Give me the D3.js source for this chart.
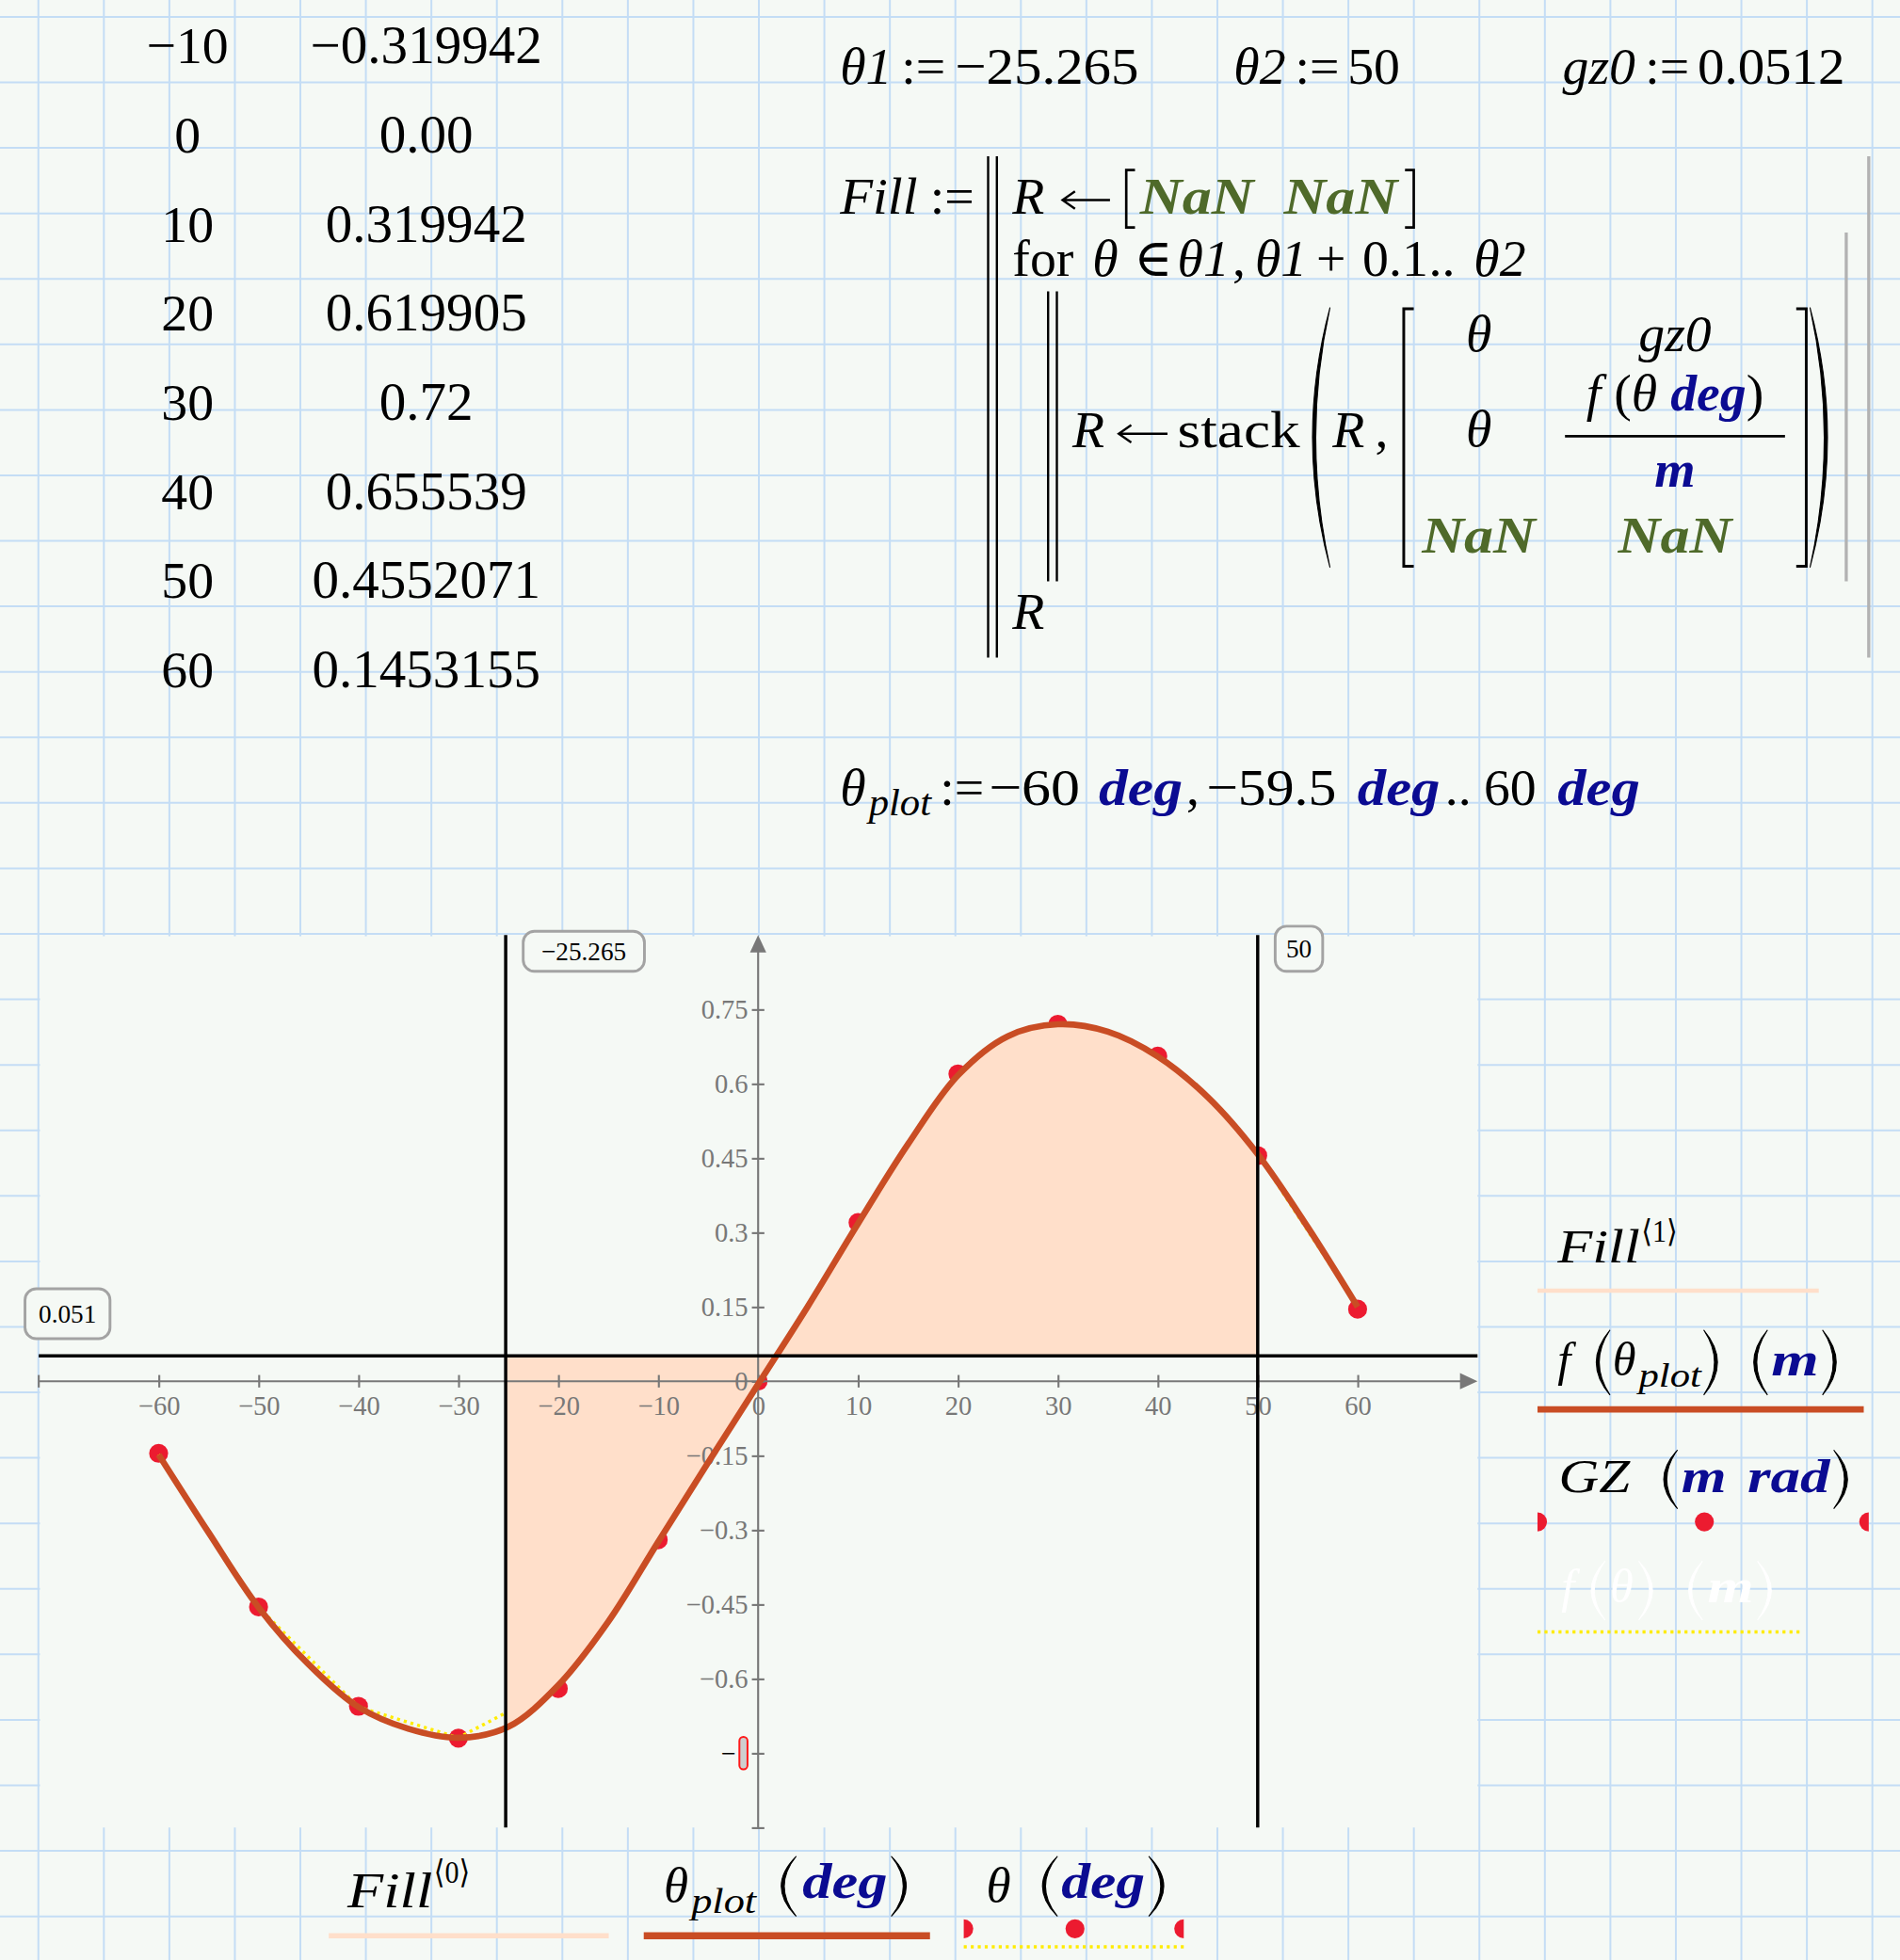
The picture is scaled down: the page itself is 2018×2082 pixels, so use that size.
<!DOCTYPE html>
<html>
<head>
<meta charset="utf-8">
<script src="https://cdn.jsdelivr.net/npm/d3@7"></script>
<style>
  html, body { margin: 0; padding: 0; background: #f5f9f5; }
  svg { display: block; }
</style>
</head>
<body>
<svg id="sheet" width="2018" height="2082" viewBox="0 0 1520 1568" preserveAspectRatio="none"></svg>
<script>
const tableTheta = [-10, 0, 10, 20, 30, 40, 50, 60];
const tableGZ = ["−0.319942", "0.00", "0.319942", "0.619905", "0.72", "0.655539", "0.4552071", "0.1453155"];

const gzTheta = [-60, -50, -40, -30, -20, -10, 0, 10, 20, 30, 40, 50, 60];
const gzValues = [-0.1453155, -0.4552071, -0.655539, -0.72, -0.619905, -0.319942, 0,
                  0.319942, 0.619905, 0.72, 0.655539, 0.4552071, 0.1453155];

// fitted curve f(theta), read every 5 deg
const fitTheta = [-60, -55, -50, -45, -40, -35, -30, -25, -20, -15, -10, -5, 0,
                  5, 10, 15, 20, 25, 30, 35, 40, 45, 50, 55, 60];
const fitValues = [-0.148, -0.305, -0.456, -0.571, -0.657, -0.701, -0.719, -0.697, -0.613, -0.485, -0.324, -0.164, -0.006,
                   0.152, 0.318, 0.478, 0.617, 0.696, 0.720, 0.705, 0.655, 0.573, 0.458, 0.311, 0.150];

const theta1 = -25.265;
const theta2 = 50;
const gz0 = 0.0512;

const xTicks = [-60, -50, -40, -30, -20, -10, 0, 10, 20, 30, 40, 50, 60];
const yTicks = [0.75, 0.6, 0.45, 0.3, 0.15, 0, -0.15, -0.3, -0.45, -0.6, -0.75, -0.9];
const yTickLabels = ["0.75", "0.6", "0.45", "0.3", "0.15", "0", "−0.15", "−0.3", "−0.45", "−0.6", "", ""];

const FONT = "'Liberation Serif', 'DejaVu Serif', serif";
const BLUE = "#0b0b92";
const OLIVE = "#4f6a2a";
const CURVE = "#c94d24";
const DOT = "#ec1b30";
const PEACH = "#ffdfca";
const YELLOW = "#ffec00";

const svg = d3.select("#sheet");
svg.attr("font-family", FONT);

// worksheet grid
const grid = svg.append("g").attr("stroke", "#c4ddf5").attr("stroke-width", 1.5);
grid.selectAll("line.v").data(d3.range(0, 29)).join("line")
  .attr("x1", k => 30.7 + 52.4 * k).attr("x2", k => 30.7 + 52.4 * k)
  .attr("y1", 0).attr("y2", 1568);
grid.selectAll("line.h").data(d3.range(0, 30)).join("line")
  .attr("y1", k => 13.5 + 52.4 * k).attr("y2", k => 13.5 + 52.4 * k)
  .attr("x1", 0).attr("x2", 1520);

// text helpers
function txt(g, x, y, s, o = {}) {
  const t = g.append("text")
    .attr("x", x).attr("y", y)
    .attr("font-size", o.size ?? 42)
    .attr("font-style", o.italic ? "italic" : null)
    .attr("font-weight", o.bold ? "bold" : null)
    .attr("fill", o.fill ?? "#000")
    .attr("text-anchor", o.anchor ?? "start")
    .text(s);
  if (o.len) t.attr("textLength", o.len).attr("lengthAdjust", "spacingAndGlyphs");
  return t;
}

function runs(g, x, y, parts, o = {}) {
  const t = g.append("text")
    .attr("x", x).attr("y", y)
    .attr("font-size", o.size ?? 42)
    .attr("text-anchor", o.anchor ?? "start")
    .attr("fill", o.fill ?? "#000");
  parts.forEach(p => {
    const sp = t.append("tspan").text(p.t);
    if (p.i) sp.attr("font-style", "italic");
    if (p.b) sp.attr("font-weight", "bold");
    if (p.c) sp.attr("fill", p.c);
  });
  return t;
}

function arrowLeft(g, x0, x1, yy) {
  g.append("path")
    .attr("d", `M${x1},${yy} H${x0 + 1} M${x0 + 10},${yy - 7} L${x0},${yy} L${x0 + 10},${yy + 7}`)
    .attr("fill", "none").attr("stroke", "#000").attr("stroke-width", 1.8);
}

// tall parenthesis as a thin crescent; open = "(" when left edge is x0
function paren(g, x0, x1, y0, y1, open, col = "#000", w = 2.4) {
  const m = (y0 + y1) / 2;
  let d;
  if (open) {
    const c1 = 2 * x0 - x1, c2 = 2 * (x0 + w) - x1;
    d = `M${x1},${y0} Q${c1},${m} ${x1},${y1} Q${c2},${m} ${x1},${y0} Z`;
  } else {
    const c1 = 2 * x1 - x0, c2 = 2 * (x1 - w) - x0;
    d = `M${x0},${y0} Q${c1},${m} ${x0},${y1} Q${c2},${m} ${x0},${y0} Z`;
  }
  g.append("path").attr("d", d).attr("fill", col).attr("stroke", col).attr("stroke-width", 0.8);
}

// table on the left
const tbl = svg.append("g");
tableTheta.forEach((d, i) => {
  txt(tbl, 150, 50.7 + 71.3 * i, d3.format("d")(d), { anchor: "middle" });
  txt(tbl, 341, 50.7 + 71.3 * i, tableGZ[i], { anchor: "middle", size: 43 });
});

// definitions
const fm = svg.append("g");
txt(fm, 672, 67, "θ1", { italic: true });
txt(fm, 721, 67, ":=");
txt(fm, 764, 67, "−25.265", { len: 147 });
txt(fm, 987, 67, "θ2", { italic: true });
txt(fm, 1036, 67, ":=");
txt(fm, 1078, 67, "50");
txt(fm, 1250, 67, "gz0", { italic: true });
txt(fm, 1316, 67, ":=");
txt(fm, 1358, 67, "0.0512", { len: 118 });

// Fill program
txt(fm, 672, 171, "Fill", { italic: true, len: 62 });
txt(fm, 744, 171, ":=");
[790.5, 797.5].forEach(x => fm.append("line").attr("x1", x).attr("x2", x).attr("y1", 125).attr("y2", 526).attr("stroke", "#000").attr("stroke-width", 1.8));
[838.5, 845.5].forEach(x => fm.append("line").attr("x1", x).attr("x2", x).attr("y1", 233).attr("y2", 465).attr("stroke", "#000").attr("stroke-width", 1.8));
[[1477, 186, 465], [1495, 125, 526]].forEach(d => fm.append("line").attr("x1", d[0]).attr("x2", d[0]).attr("y1", d[1]).attr("y2", d[2]).attr("stroke", "#b2b2b2").attr("stroke-width", 2.5));

txt(fm, 810, 171, "R", { italic: true });
arrowLeft(fm, 850, 888, 160);
const sb = fm.append("g").attr("fill", "none").attr("stroke", "#000").attr("stroke-width", 2);
sb.append("path").attr("d", "M908,136 H901 V182 H908");
sb.append("path").attr("d", "M1124,136 H1131 V182 H1124");
txt(fm, 912, 171, "NaN", { italic: true, bold: true, fill: OLIVE, len: 91 });
txt(fm, 1027, 171, "NaN", { italic: true, bold: true, fill: OLIVE, len: 91 });

txt(fm, 810, 221, "for");
txt(fm, 874, 221, "θ", { italic: true });
txt(fm, 907, 221, "∈");
txt(fm, 942, 221, "θ1", { italic: true });
txt(fm, 986, 221, ",");
txt(fm, 1004, 221, "θ1", { italic: true });
txt(fm, 1053, 221, "+");
txt(fm, 1090, 221, "0.1");
txt(fm, 1143, 221, "..");
txt(fm, 1179, 221, "θ2", { italic: true });

txt(fm, 858, 358, "R", { italic: true });
arrowLeft(fm, 895, 934, 347);
txt(fm, 942, 358, "stack", { len: 98 });
txt(fm, 1066, 358, "R", { italic: true });
txt(fm, 1100, 358, ",");
paren(fm, 1050, 1064, 246, 454, true, "#000", 2.6);
paren(fm, 1448, 1462, 246, 454, false, "#000", 2.6);
const br = fm.append("g").attr("fill", "none").attr("stroke", "#000").attr("stroke-width", 2.2);
br.append("path").attr("d", "M1131,247 H1123 V453 H1131");
br.append("path").attr("d", "M1437,247 H1445 V453 H1437");

txt(fm, 1183, 281, "θ", { italic: true, anchor: "middle" });
txt(fm, 1183, 357, "θ", { italic: true, anchor: "middle" });
txt(fm, 1183, 442, "NaN", { italic: true, bold: true, fill: OLIVE, anchor: "middle", len: 91 });
txt(fm, 1340, 281, "gz0", { italic: true, anchor: "middle" });
runs(fm, 1340, 328, [{ t: "f", i: true }, { t: " (" }, { t: "θ ", i: true }, { t: "deg", i: true, b: true, c: BLUE }, { t: ")" }], { anchor: "middle" });
fm.append("line").attr("x1", 1252).attr("x2", 1428).attr("y1", 349).attr("y2", 349).attr("stroke", "#000").attr("stroke-width", 2);
txt(fm, 1340, 389, "m", { italic: true, bold: true, fill: BLUE, anchor: "middle" });
txt(fm, 1340, 442, "NaN", { italic: true, bold: true, fill: OLIVE, anchor: "middle", len: 91 });
txt(fm, 810, 503, "R", { italic: true });

// theta_plot range
txt(fm, 672, 644, "θ", { italic: true });
txt(fm, 695, 652, "plot", { italic: true, size: 30, len: 50 });
txt(fm, 752, 644, ":=");
txt(fm, 791, 644, "−60", { len: 73 });
txt(fm, 879, 644, "deg", { italic: true, bold: true, fill: BLUE, len: 67 });
txt(fm, 949, 644, ",");
txt(fm, 965, 644, "−59.5", { len: 104 });
txt(fm, 1086, 644, "deg", { italic: true, bold: true, fill: BLUE, len: 66 });
txt(fm, 1156, 644, "..");
txt(fm, 1187, 644, "60");
txt(fm, 1246, 644, "deg", { italic: true, bold: true, fill: BLUE, len: 66 });

// plot
const X0 = 31, X1 = 1182, Y0 = 748, Y1 = 1462;
const x = d3.scaleLinear().domain([-72, 72]).range([X0, X1]);
const y = d3.scaleLinear().domain([-0.9, 0.9]).range([Y1, Y0]);

svg.append("rect").attr("x", X0 + 1).attr("y", Y0 + 1).attr("width", X1 - X0 - 1).attr("height", Y1 - Y0 - 1).attr("fill", "#f5f9f5");

const plot = svg.append("g");
const fitPts = fitTheta.map((t, i) => [t, fitValues[i]]);
const smooth = d3.curveCatmullRom.alpha(0.5);

// GZ points
plot.append("g").selectAll("circle").data(gzTheta).join("circle")
  .attr("cx", (d) => x(d)).attr("cy", (d, i) => y(gzValues[i]))
  .attr("r", 7.6).attr("fill", DOT);

// f(theta) at the data angles, yellow dotted
plot.append("path")
  .datum(fitPts.filter(d => d[0] % 10 === 0))
  .attr("fill", "none").attr("stroke", YELLOW).attr("stroke-width", 2.6)
  .attr("stroke-dasharray", "2.4 3.2")
  .attr("d", d3.line().x(d => x(d[0])).y(d => y(d[1])));

// shaded region between gz0 and the curve
svg.append("clipPath").attr("id", "fillclip").append("rect")
  .attr("x", x(theta1)).attr("y", Y0).attr("width", x(theta2) - x(theta1)).attr("height", Y1 - Y0);
plot.append("path")
  .datum(fitPts)
  .attr("clip-path", "url(#fillclip)")
  .attr("fill", PEACH)
  .attr("d", d3.area().x(d => x(d[0])).y0(y(gz0)).y1(d => y(d[1])).curve(smooth));

// axes
const AX = "#787878";
const xa = plot.append("g").attr("transform", `translate(0,${y(0)})`)
  .call(d3.axisBottom(x).tickValues(xTicks).tickSize(0).tickFormat(d3.format("d")));
xa.select(".domain").remove();
xa.selectAll(".tick line").attr("y1", -5).attr("y2", 5).attr("stroke", AX).attr("stroke-width", 1.6);
xa.selectAll(".tick text").attr("y", 12).attr("dy", "0.71em").attr("fill", AX)
  .attr("font-size", 21.5).attr("font-family", FONT);

const ya = plot.append("g").attr("transform", `translate(${x(0)},0)`)
  .call(d3.axisLeft(y).tickValues(yTicks).tickSize(0).tickFormat((d, i) => yTickLabels[i]));
ya.select(".domain").remove();
ya.selectAll(".tick line").attr("x1", -5).attr("x2", 5).attr("stroke", AX).attr("stroke-width", 1.6);
ya.selectAll(".tick text").attr("x", -8).attr("fill", AX)
  .attr("font-size", 21.5).attr("font-family", FONT);

plot.append("line").attr("x1", X0).attr("x2", X1 - 12).attr("y1", y(0)).attr("y2", y(0)).attr("stroke", AX).attr("stroke-width", 1.6);
plot.append("line").attr("x1", X0).attr("x2", X0).attr("y1", y(0) - 5).attr("y2", y(0) + 5).attr("stroke", AX).attr("stroke-width", 1.6);
plot.append("path").attr("d", `M${X1},${y(0)} L${X1 - 14},${y(0) - 6.5} L${X1 - 14},${y(0) + 6.5} Z`).attr("fill", AX);
plot.append("line").attr("x1", x(0)).attr("x2", x(0)).attr("y1", Y0 + 12).attr("y2", Y1).attr("stroke", AX).attr("stroke-width", 1.6);
plot.append("path").attr("d", `M${x(0)},${Y0} L${x(0) - 6.5},${Y0 + 14} L${x(0) + 6.5},${Y0 + 14} Z`).attr("fill", AX);

// edit cursor sitting on the -0.75 label
const cy75 = y(-0.75);
txt(plot, 577, cy75 + 7, "−", { size: 21 });
plot.append("rect").attr("x", 591.5).attr("y", cy75 - 13).attr("width", 6.5).attr("height", 26).attr("rx", 3.2)
  .attr("fill", "#cfcfcf").attr("stroke", "#ff1a1a").attr("stroke-width", 1.5);

// f(theta_plot)
plot.append("path").datum(fitPts)
  .attr("fill", "none").attr("stroke", CURVE).attr("stroke-width", 5)
  .attr("stroke-linejoin", "round")
  .attr("d", d3.line().x(d => x(d[0])).y(d => y(d[1])).curve(smooth));

// markers
const mk = plot.append("g").attr("stroke", "#000").attr("stroke-width", 2.6);
mk.append("line").attr("x1", X0).attr("x2", X1).attr("y1", y(gz0)).attr("y2", y(gz0));
mk.append("line").attr("x1", x(theta1)).attr("x2", x(theta1)).attr("y1", Y0).attr("y2", Y1);
mk.append("line").attr("x1", x(theta2)).attr("x2", x(theta2)).attr("y1", Y0).attr("y2", Y1);

function tag(g, bx, by, w, h, s) {
  g.append("rect").attr("x", bx).attr("y", by).attr("width", w).attr("height", h).attr("rx", 9)
    .attr("fill", "#f5f9f5").attr("stroke", "#a3a3a3").attr("stroke-width", 2.2);
  txt(g, bx + w / 2, by + h / 2 + 7, s, { size: 20.5, anchor: "middle" });
}
tag(plot, x(theta1) + 14, 745, 97, 32, d3.format(".3f")(theta1).replace("-", "−"));
tag(plot, x(theta2) + 14, 741, 38, 36, String(theta2));
tag(plot, 20, 1031, 68, 40, d3.format(".3f")(gz0).replace(/0$/, ""));

// right legend (y traces)
const lr = svg.append("g");
const LS = 38;
txt(lr, 1246, 1010, "Fill", { italic: true, size: LS, len: 66 });
txt(lr, 1313, 993, "⟨1⟩", { size: 25, len: 29 });
lr.append("line").attr("x1", 1230).attr("x2", 1455).attr("y1", 1032.5).attr("y2", 1032.5).attr("stroke", PEACH).attr("stroke-width", 3.5);

txt(lr, 1246, 1100, "f", { italic: true, size: LS });
paren(lr, 1277, 1288, 1064, 1116, true);
txt(lr, 1290, 1100, "θ", { italic: true, size: LS });
txt(lr, 1311, 1109, "plot", { italic: true, size: 27, len: 50 });
paren(lr, 1363, 1374, 1064, 1116, false);
paren(lr, 1403, 1414, 1064, 1116, true);
txt(lr, 1417, 1100, "m", { italic: true, bold: true, fill: BLUE, size: LS, len: 38 });
paren(lr, 1458, 1469, 1064, 1116, false);
lr.append("line").attr("x1", 1230).attr("x2", 1491).attr("y1", 1127.5).attr("y2", 1127.5).attr("stroke", CURVE).attr("stroke-width", 5.2);

txt(lr, 1247, 1194, "GZ", { italic: true, size: LS, len: 57 });
paren(lr, 1331, 1342, 1160, 1207, true);
txt(lr, 1345, 1194, "m", { italic: true, bold: true, fill: BLUE, size: LS, len: 36 });
txt(lr, 1398, 1194, "rad", { italic: true, bold: true, fill: BLUE, size: LS, len: 66 });
paren(lr, 1467, 1478, 1160, 1207, false);
svg.append("clipPath").attr("id", "lrclip").append("rect").attr("x", 1230).attr("y", 1200).attr("width", 265).attr("height", 40);
lr.append("g").attr("clip-path", "url(#lrclip)").selectAll("circle").data([1230, 1363.5, 1495]).join("circle")
  .attr("cx", d => d).attr("cy", 1217.5).attr("r", 7.6).attr("fill", DOT);

const wl = lr.append("g");
txt(wl, 1249, 1282, "f", { italic: true, size: LS, fill: "#fff" });
paren(wl, 1273, 1284, 1249, 1296, true, "#fff");
txt(wl, 1288, 1282, "θ", { italic: true, size: LS, fill: "#fff" });
paren(wl, 1311, 1322, 1249, 1296, false, "#fff");
paren(wl, 1351, 1362, 1249, 1296, true, "#fff");
txt(wl, 1366, 1282, "m", { italic: true, bold: true, size: LS, fill: "#fff", len: 37 });
paren(wl, 1406, 1417, 1249, 1296, false, "#fff");
lr.append("line").attr("x1", 1230).attr("x2", 1440).attr("y1", 1305.5).attr("y2", 1305.5).attr("stroke", YELLOW).attr("stroke-width", 2.6).attr("stroke-dasharray", "2.4 3.2");

// bottom legend (x traces)
const lb = svg.append("g");
txt(lb, 278, 1526, "Fill", { italic: true, size: 40, len: 68 });
txt(lb, 347, 1506, "⟨0⟩", { size: 26, len: 29 });
lb.append("line").attr("x1", 263).attr("x2", 487).attr("y1", 1548.6).attr("y2", 1548.6).attr("stroke", PEACH).attr("stroke-width", 4);

txt(lb, 531, 1521, "θ", { italic: true, size: 40 });
txt(lb, 553, 1530, "plot", { italic: true, size: 28, len: 52 });
paren(lb, 625, 637, 1485, 1533, true);
txt(lb, 642, 1518, "deg", { italic: true, bold: true, fill: BLUE, size: 40, len: 68 });
paren(lb, 713, 725, 1485, 1533, false);
lb.append("line").attr("x1", 515).attr("x2", 744).attr("y1", 1548.6).attr("y2", 1548.6).attr("stroke", CURVE).attr("stroke-width", 5.5);

txt(lb, 789, 1521, "θ", { italic: true, size: 40 });
paren(lb, 834, 846, 1485, 1533, true);
txt(lb, 849, 1518, "deg", { italic: true, bold: true, fill: BLUE, size: 40, len: 67 });
paren(lb, 919, 931, 1485, 1533, false);
svg.append("clipPath").attr("id", "lbclip").append("rect").attr("x", 771).attr("y", 1530).attr("width", 176).attr("height", 30);
lb.append("g").attr("clip-path", "url(#lbclip)").selectAll("circle").data([771, 860, 947]).join("circle")
  .attr("cx", d => d).attr("cy", 1543).attr("r", 7.6).attr("fill", DOT);
lb.append("line").attr("x1", 771).attr("x2", 947).attr("y1", 1557.4).attr("y2", 1557.4).attr("stroke", YELLOW).attr("stroke-width", 2.6).attr("stroke-dasharray", "2.4 3.2");
</script>
</body>
</html>
